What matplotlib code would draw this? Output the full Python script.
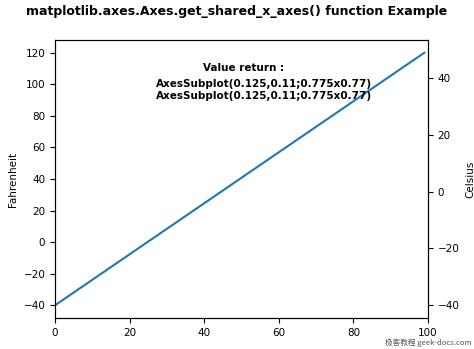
import matplotlib
matplotlib.use("Agg")
import matplotlib.pyplot as plt

# data: Fahrenheit line over sample index
x_vals = [0, 99]
fahrenheit = [-40, 120]
info_lines = ["AxesSubplot(0.125,0.11;0.775x0.77)",
              "AxesSubplot(0.125,0.11;0.775x0.77)"]


def fahrenheit2celsius(temp):
    return (5. / 9.) * (temp - 32)


fig, ax1 = plt.subplots(figsize=(4.74, 3.49), dpi=100)
fig.subplots_adjust(left=0.116, right=0.903, top=0.885, bottom=0.089)
ax2 = ax1.twinx()

ax1.plot(x_vals, fahrenheit)
ax1.set_xlim(0, 100)
ax1.set_ylim(-48, 128)
y1, y2 = ax1.get_ylim()
ax2.set_ylim(fahrenheit2celsius(y1), fahrenheit2celsius(y2))

ax1.set_ylabel("Fahrenheit", fontsize=7.5)
ax2.set_ylabel("Celsius", fontsize=7.5)
ax1.tick_params(labelsize=7.5)
ax2.tick_params(labelsize=7.5)

ax1.text(39.6, 110.3, "Value return :", fontweight="bold", fontsize=7.5,
         ha="left", va="center")
ax1.text(27, 96.7, info_lines[0] + "\n" + info_lines[1], fontweight="bold",
         fontsize=7.5, ha="left", va="center", linespacing=1.25)

fig.suptitle("matplotlib.axes.Axes.get_shared_x_axes() function Example",
             fontweight="bold", fontsize=9, y=0.987)

# watermark
fig.text(0.995, 0.005, "极客教程 geek-docs.com", fontsize=5.5, color="#555555",
         ha="right", va="bottom", family=["Noto Sans CJK SC", "DejaVu Sans"])

fig.savefig("out.png", dpi=100)
